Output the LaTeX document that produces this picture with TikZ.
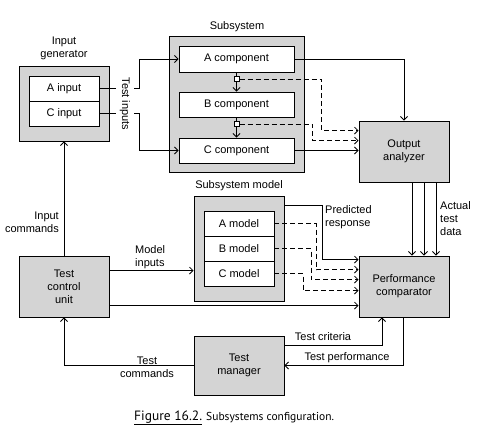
\documentclass[tikz,border=0pt]{standalone}
\usepackage{fontspec}
\setmainfont{Liberation Sans}
\newfontfamily\capfont{PT Sans}
\usetikzlibrary{arrows.meta,calc}
\definecolor{boxgray}{RGB}{212,212,212}
\tikzset{
  outerbox/.style={draw, fill=boxgray, line width=0.9pt, inner sep=0pt},
  innerbox/.style={draw, fill=white, line width=0.9pt, inner sep=0pt, align=center},
  lbl/.style={font=\fontsize{11}{13}\selectfont, align=center, inner sep=1pt},
  arr/.style={line width=0.8pt, -{Straight Barb[length=3.5pt,width=7pt]}},
  ln/.style={line width=0.8pt},
  dsh/.style={line width=0.8pt, dash pattern=on 5pt off 3pt, -{Straight Barb[length=3.5pt,width=7pt]}},
  sq/.style={draw, fill=white, line width=0.7pt, minimum width=4.5pt, minimum height=4.5pt, inner sep=0pt}
}
\begin{document}
\begin{tikzpicture}[x=1pt,y=-1pt, font=\fontsize{11}{13}\selectfont]
\path[use as bounding box, fill=white] (0,0) rectangle (483,440);

% Input generator
\node[outerbox, minimum width=90pt, minimum height=75pt] (IG) at (64,103.5) {};
\node[innerbox, minimum width=70pt, minimum height=25pt] (Ain) at (64,88.5) {A input};
\node[innerbox, minimum width=70pt, minimum height=25pt] (Cin) at (64,113.5) {C input};
\node[lbl] (IGl) at (64,48) {Input\\generator};

% Subsystem
\node[outerbox, minimum width=135pt, minimum height=136pt] (SS) at (236.5,104) {};
\node[innerbox, minimum width=115pt, minimum height=26pt] (Ac) at (236.5,59) {A component};
\node[innerbox, minimum width=115pt, minimum height=25pt] (Bc) at (236.5,104.5) {B component};
\node[innerbox, minimum width=115pt, minimum height=25pt] (Cc) at (236.5,150.5) {C component};
\node[lbl] (SSl) at (237,27) {Subsystem};

% Output analyzer
\node[outerbox, minimum width=90pt, minimum height=61pt, align=center] (OA) at (404,151.5) {Output\\analyzer};

% Performance comparator
\node[outerbox, minimum width=90pt, minimum height=61pt, align=center] (PC) at (404,286.5) {Performance\\comparator};

% Subsystem model
\node[outerbox, minimum width=90pt, minimum height=105pt] (SM) at (239,248.5) {};
\node[innerbox, minimum width=70pt, minimum height=25pt] (Am) at (239,223.5) {A model};
\node[innerbox, minimum width=70pt, minimum height=25pt] (Bm) at (239,248.5) {B model};
\node[innerbox, minimum width=70pt, minimum height=25pt] (Cm) at (239,273.5) {C model};
\node[lbl] (SMl) at (239,186) {Subsystem model};

% Test control unit
\node[outerbox, minimum width=90pt, minimum height=61pt, align=center] (TC) at (64,286.5) {Test\\control\\unit};

% Test manager
\node[outerbox, minimum width=90pt, minimum height=59pt, align=center] (TM) at (239,365.5) {Test\\manager};

% Test inputs
\draw[arr] (Ain.east) -- ++(40,0) |- (Ac.west);
\draw[arr] (Cin.east) -- ++(40,0) |- (Cc.west);
\node[lbl, rotate=-90, fill=white, inner xsep=1pt, inner ysep=4pt] (TI) at (125,104) {Test inputs};

% Inside subsystem
\draw[arr] (Ac.south) -- (Bc.north);
\draw[arr] (Bc.south) -- (Cc.north);
\node[sq] (sqA) at (237,79) {};
\node[sq] (sqB) at (237,124) {};
\draw[dsh] (sqA.east) -- ++(82,0) |- ($(OA.north west)+(0,10)$);
\draw[dsh] (sqB.east) -- ++(73,0) |- ($(OA.north west)+(0,20)$);
\draw[arr] (Cc.east) -- (Cc.east -| OA.west);
\draw[arr] (Ac.east) -| (OA.north);

% Actual test data
\draw[arr] ([xshift=8]OA.south) -- ([xshift=8]PC.north);
\draw[arr] ([xshift=20]OA.south) -- ([xshift=20]PC.north);
\draw[arr] ([xshift=32]OA.south) -- ([xshift=32]PC.north);
\node[lbl, anchor=west, align=left] (ATD) at (439,219) {Actual\\test\\data};

% Subsystem model to comparator
\draw[arr] ($(SM.north east)+(0,10)$) -- ++(38,0) |- ($(PC.north west)+(0,4)$);
\node[lbl, anchor=west, align=left] (PR) at (324,217) {Predicted\\response};
\draw[dsh] (Am.east) -- ++(42,0) |- ($(PC.north west)+(0,14)$);
\draw[dsh] (Bm.east) -- ++(37,0) |- ($(PC.north west)+(0,24)$);
\draw[dsh] (Cm.east) -- ++(29,0) |- ($(PC.north west)+(0,35)$);

% Test control unit connections
\draw[arr] (TC.north) -- (IG.south);
\node[lbl, anchor=east, align=right] (ICl) at (60,222) {Input\\commands};
\coordinate (tcA) at ($(TC.north east)+(0,15)$);
\coordinate (tcB) at ($(TC.north east)+(0,50)$);
\draw[arr] (tcA) -- (tcA -| SM.west);
\node[lbl, anchor=west, align=left] (MIl) at (134,257) {Model\\inputs};
\draw[arr] (tcB) -- (tcB -| PC.west);

% Test manager connections
\draw[arr] (TM.west) -| (TC.south);
\node[lbl] (TCl) at (147,367) {Test\\commands};
\draw[arr] ($(TM.north east)+(0,10)$) -| ([xshift=-22]PC.south);
\node[lbl] (TCrl) at (323,337) {Test criteria};
\draw[arr] ([xshift=-1]PC.south) |- (TM.east);
\node[lbl] (TPl) at (347,358) {Test performance};

% Caption
\node[anchor=west, inner sep=0pt] (cap) at (134,418) {\capfont{\fontsize{13.5}{15}\selectfont\underline{Figure 16.2.}}\hspace{4pt}{\fontsize{11.5}{13}\selectfont Subsystems configuration.}};
\end{tikzpicture}
\end{document}
